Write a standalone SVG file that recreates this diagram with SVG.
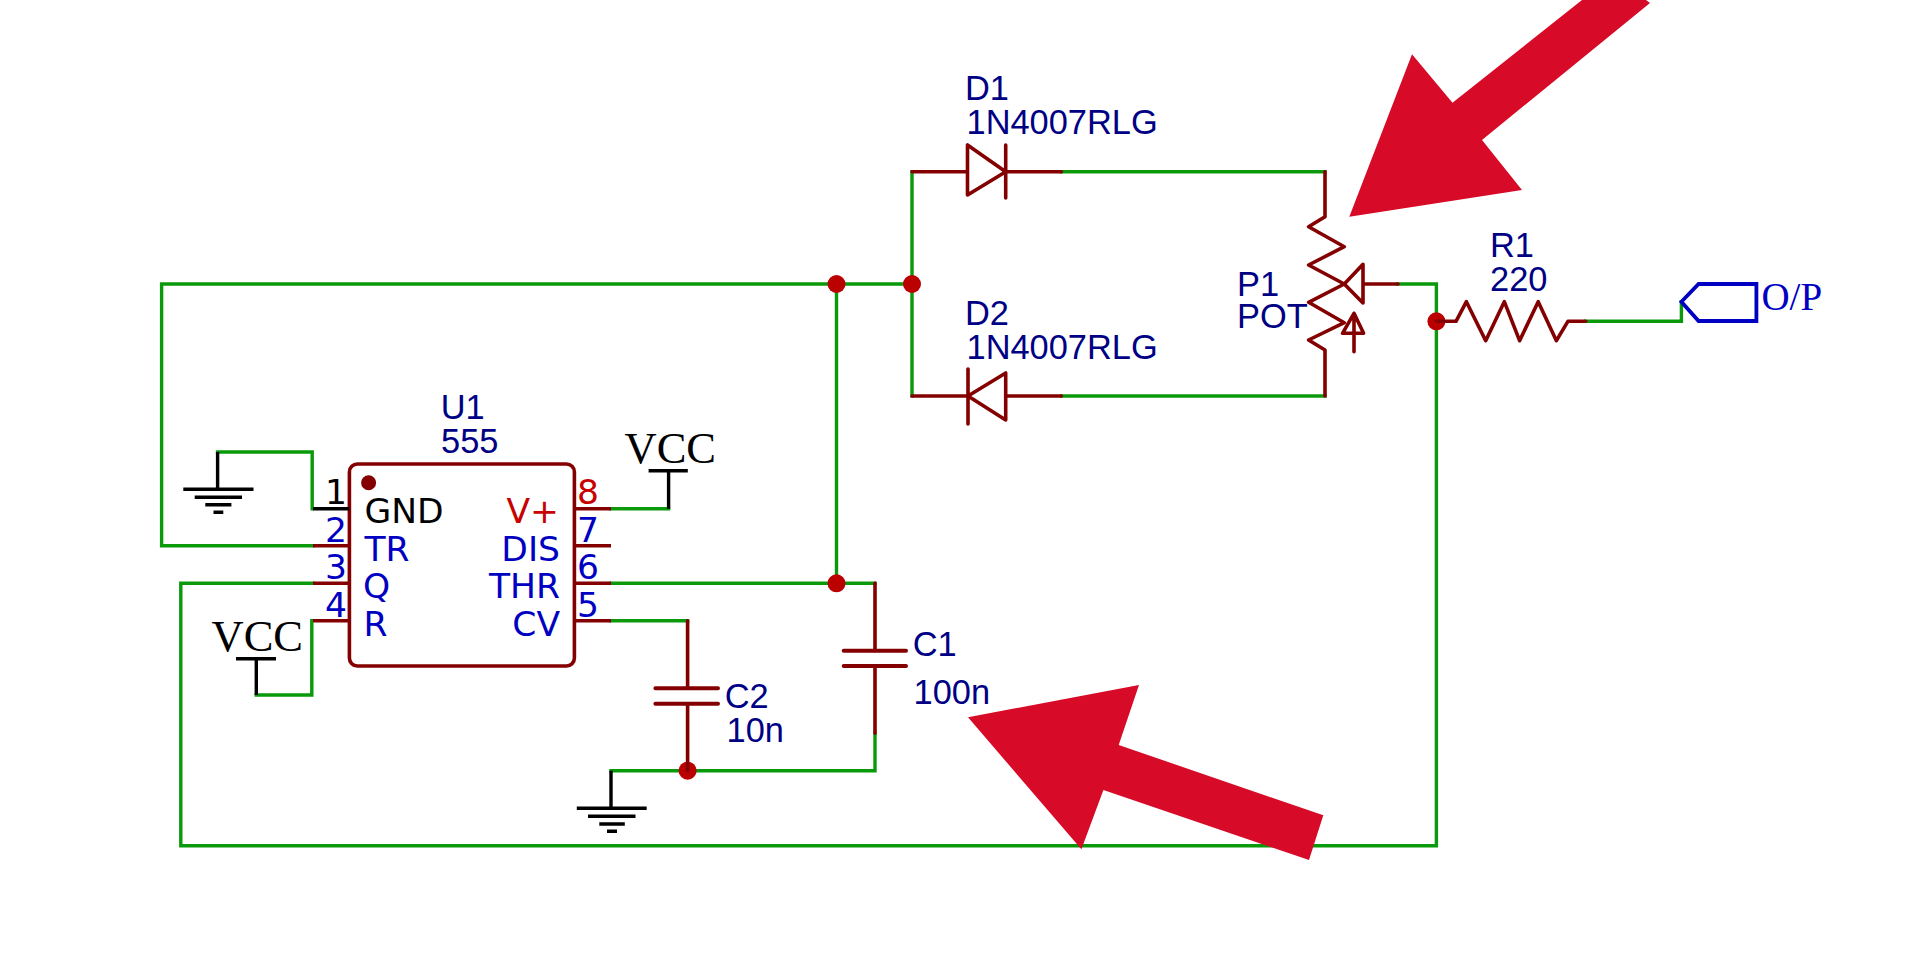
<svg xmlns="http://www.w3.org/2000/svg" width="1920" height="960" viewBox="0 0 1920 960">
<style>
.w{fill:none;stroke:#0a990a;stroke-width:3.4;stroke-linejoin:miter;stroke-linecap:square}
.s{fill:none;stroke:#840000;stroke-width:3.6;stroke-linejoin:round;stroke-linecap:round}
.p{fill:none;stroke:#000;stroke-width:3.4;stroke-linecap:butt}
.b{fill:none;stroke:#0000c2;stroke-width:3.8;stroke-linejoin:miter}
.j{fill:#bb0000}
.a{fill:#d70a27}
text{font-family:"DejaVu Sans","Liberation Sans",sans-serif;font-size:34.5px}
.n{font-family:"Liberation Sans",sans-serif;font-size:34.4px;fill:#000084}
.l{fill:#0000c2}
.k{fill:#000}
.r{fill:#c80000}
.e{text-anchor:end}
.v{font-family:"Liberation Serif",serif;font-size:44.5px;fill:#000}
</style>
<rect width="1920" height="960" fill="#fff"/>
<g id="connectors">
<path class="w" d="M313 545.7H161.6V284H912"/>
<path class="w" d="M313 583.3H180.8V845.7H1436.4V284H1398"/>
<path class="w" d="M611 583.3H875"/>
<path class="w" d="M836.5 284V583.3"/>
<path class="w" d="M611 620.7H687.6"/>
<path class="w" d="M875 733.3V770.7H611"/>
<path class="w" d="M912 171.7V396"/>
<path class="w" d="M1061.4 171.7H1325"/>
<path class="w" d="M1061.4 396H1325"/>
<path class="w" d="M217.6 452H312.2V508.7"/>
<path class="w" d="M256.3 695H311.8V620.7"/>
<path class="w" d="M611 508.7H668.6"/>
<path class="w" d="M1585.7 321.3H1681.4V301.7"/>
<circle class="j" cx="836.5" cy="284" r="9"/>
<circle class="j" cx="912" cy="284" r="9"/>
<circle class="j" cx="836.5" cy="583.3" r="9"/>
<circle class="j" cx="687.6" cy="770.7" r="9"/>
<circle class="j" cx="1436.4" cy="321.3" r="9"/>
</g>
<g id="U1">
<rect class="s" x="349.4" y="464" width="225" height="202" rx="8"/>
<circle cx="368.6" cy="482.7" r="7.5" fill="#840000"/>
<path class="p" d="M313 508.7H349.4"/>
<path class="s" d="M313 545.7H349.4M313 583.3H349.4M313 620.7H349.4M574.4 508.7H611M574.4 545.7H611M574.4 583.3H611M574.4 620.7H611" style="stroke-linecap:butt"/>
<text class="n"><tspan x="440.7" y="419.3">U1</tspan><tspan x="441" y="452.7">555</tspan></text>
<text class="k e" x="347" y="504">1</text>
<text class="l e" x="347" y="542">2</text>
<text class="l e" x="347" y="579.3">3</text>
<text class="l e" x="347" y="616.7">4</text>
<text class="r" x="577" y="504">8</text>
<text class="l" x="577" y="542">7</text>
<text class="l" x="577" y="579.3">6</text>
<text class="l" x="577" y="616.7">5</text>
<text class="k" x="364.5" y="523.3">GND</text>
<text class="l" x="364.5" y="560.7">TR</text>
<text class="l" x="363" y="598.3">Q</text>
<text class="l" x="363.5" y="635.7">R</text>
<text class="r e" x="559" y="523.3">V+</text>
<text class="l e" x="560" y="560.7">DIS</text>
<text class="l e" x="560" y="598.3">THR</text>
<text class="l e" x="560" y="635.7">CV</text>
</g>
<g id="GND1">
<path class="p" d="M217.6 452V489.3M183.3 489.3H253.5M194.7 497.3H242M205.3 504.7H231.4M213.5 512.3H223.3"/>
</g>
<g id="GND2">
<path class="p" d="M611 770.7V808.3M576.8 808.3H646.7M588 816.3H635.5M599.3 824H624.8M607 831.3H617"/>
</g>
<g id="VCC1">
<text class="v" x="624.5" y="462.7">VCC</text>
<path class="p" d="M648.6 470.7H687.8M668.6 470.7V508.7"/>
</g>
<g id="VCC2">
<text class="v" x="211.5" y="650.7">VCC</text>
<path class="p" d="M236 658.7H276M256.3 658.7V695"/>
</g>
<g id="C1">
<path class="s" d="M875 583.3V650.7M875 666V733.3"/>
<path class="s" d="M843.7 650.7H906M843.7 666H906" style="stroke-width:4"/>
<text class="n"><tspan x="912.7" y="656">C1</tspan><tspan x="913.5" y="704">100n</tspan></text>
</g>
<g id="C2">
<path class="s" d="M687.6 620.7V688.3M687.6 703.7V770.7"/>
<path class="s" d="M655.4 688.3H718M655.4 703.7H718" style="stroke-width:4"/>
<text class="n"><tspan x="724.7" y="708.3">C2</tspan><tspan x="726.5" y="741.7">10n</tspan></text>
</g>
<g id="D1">
<path class="s" d="M912 171.7H967.5M1005.7 171.7H1061.4M967.5 145V195L1005.7 171.7ZM1005.7 145V198"/>
<text class="n"><tspan x="965" y="100">D1</tspan><tspan x="966.5" y="134">1N4007RLG</tspan></text>
</g>
<g id="D2">
<path class="s" d="M912 396H968M1005.7 396H1061.4M1005.7 373V420L968 396ZM968 369V424"/>
<text class="n"><tspan x="965" y="325">D2</tspan><tspan x="966.5" y="359">1N4007RLG</tspan></text>
</g>
<g id="P1">
<path class="s" d="M1325 171.7V216.7L1308.6 226.7L1344.3 246.7L1308.6 265L1344.3 284L1308.6 302.3L1344.3 322.7L1308.6 340L1325 350V396"/>
<path class="s" d="M1344.3 284L1363 264.3V303ZM1363 284H1398"/>
<path class="s" d="M1354 351.7V313.3M1354 313.3L1342.5 333.3H1363.6Z"/>
<text class="n"><tspan x="1237" y="295.7">P1</tspan><tspan x="1237" y="328.3">POT</tspan></text>
</g>
<g id="R1">
<path class="s" d="M1436.4 321.3H1456L1466.4 301.7L1485.7 340.7L1504.3 301.7L1519.6 340.7L1538.2 301.7L1556.4 340.7L1567.9 321.3H1585.7"/>
<text class="n"><tspan x="1490" y="256.7">R1</tspan><tspan x="1490" y="291">220</tspan></text>
</g>
<g id="OP">
<path class="b" d="M1681.4 301.7L1698.6 284H1756.4V321H1698.6Z"/>
<text x="1761.4" y="310" style="font-family:'Liberation Serif',serif;font-size:39px;fill:#0000c2">O/P</text>
</g>
<g id="arrows">
<polygon class="a" points="1349.3,216.7 1412,54.3 1452.5,102.7 1582,0 1646,0 1650,3 1482,140 1522,190"/>
<polygon class="a" points="968,717.3 1139,685 1118.7,745 1323.3,815.3 1309,860 1103.4,790 1081.4,849.3"/>
</g>
</svg>
